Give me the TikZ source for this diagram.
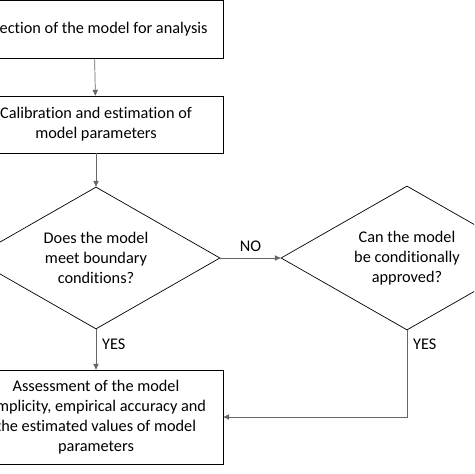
\documentclass[tikz,border=0pt]{standalone}
\usepackage{fontspec}
\setmainfont{Carlito}[Ligatures=NoCommon]
\usetikzlibrary{arrows.meta,positioning,shapes.geometric}

\begin{document}
\begin{tikzpicture}[x=0.03cm,y=-0.03cm,
		      blk/.style={draw=black,semithick,align=center,inner sep=0pt,font=\fontsize{13.9}{17}\selectfont},
		      dec/.style={blk,diamond,aspect=1.75},
		      arr/.style={-{Triangle[length=5pt,width=4.5pt]},draw=black!60,semithick},
		      lbl/.style={font=\fontsize{13.9}{15}\selectfont,inner sep=1pt}
		    ]

    \useasboundingbox (0,0) rectangle (474,474);
    \clip (0,0) rectangle (474,474);

    \node[blk,minimum width=7.74cm,minimum height=1.74cm] (sel) at (94,29.5)
      {Selection of the model for analysis};
    \node[blk,minimum width=7.62cm,minimum height=1.71cm] (cal) at (96,124.5)
      {Calibration and estimation of\\model parameters};
    \node[dec,minimum width=7.44cm,minimum height=4.26cm] (bnd) at (96,258)
      {Does the model\\meet boundary\\conditions?};
    \node[dec,minimum width=7.56cm,minimum height=4.32cm] (cnd) at (407,258)
      {Can the model\\be conditionally\\approved?};
    \node[blk,minimum width=7.62cm,minimum height=2.82cm] (ass) at (96,417)
      {Assessment of the model\\simplicity, empirical accuracy and\\the estimated values of model\\parameters};

    % connectors
    \draw[arr] (sel) -- (cal);
    \draw[arr] (cal) -- (bnd);
    \draw[arr] (bnd.east) -- node[lbl,midway,above=4pt] {NO} (cnd.west);
    \draw[arr] (bnd.south) -- node[lbl,pos=0.38,right=4pt] {YES} (ass.north);
    \draw[arr] (cnd.south) |- node[lbl,pos=0.08,right=4pt] {YES} (ass.east);

  \end{tikzpicture}
\end{document}
